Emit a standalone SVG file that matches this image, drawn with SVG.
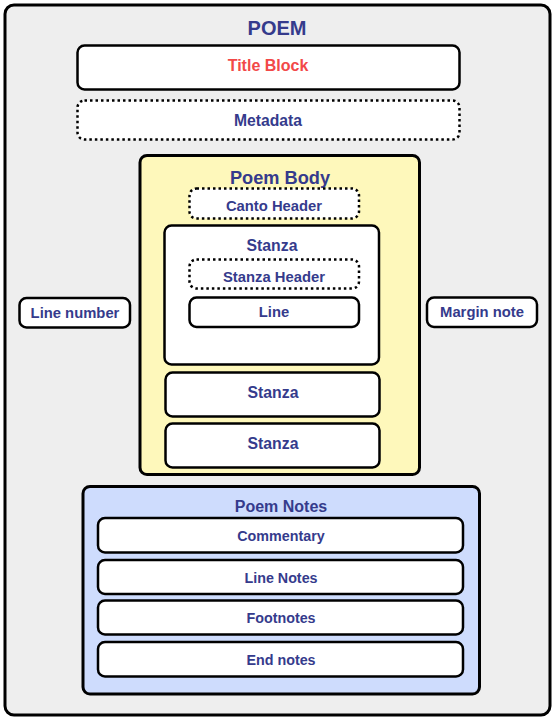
<svg xmlns="http://www.w3.org/2000/svg" width="556" height="721" viewBox="0 0 556 721">
<style>
text{font-family:"Liberation Sans",Arial,sans-serif;font-weight:bold;fill:#353b8c;text-anchor:middle}
.box{fill:#fff;stroke:#000;stroke-width:2.5}
.dot{fill:#fff;stroke:#000;stroke-width:2.5;stroke-dasharray:2.5 3}
.s{font-size:14.8px}
.n{font-size:14.3px}
</style>
<g id="poem">
<rect x="5" y="5" width="545" height="710" rx="9" fill="#eeeeee" stroke="#000" stroke-width="3"/>
<text x="277" y="35" font-size="20">POEM</text>
</g>
<g id="title-block">
<rect class="box" x="77.5" y="45.5" width="382" height="44" rx="7" stroke-width="3"/>
<text x="268" y="71" font-size="16" style="fill:#f24848">Title Block</text>
</g>
<g id="metadata">
<rect class="dot" x="77.5" y="100.5" width="382" height="39" rx="7"/>
<text x="268" y="126" font-size="15.7">Metadata</text>
</g>
<g id="poem-body">
<rect x="140" y="155.5" width="279.5" height="319" rx="7" fill="#fef8bb" stroke="#000" stroke-width="3"/>
<text x="280" y="183.5" font-size="18.2">Poem Body</text>
</g>
<g id="canto-header">
<rect class="dot" x="189.5" y="188.5" width="169.5" height="30" rx="7"/>
<text class="s" x="274" y="211">Canto Header</text>
</g>
<g id="stanza-1">
<rect class="box" x="164.5" y="225.5" width="214.5" height="139" rx="7" stroke-width="3"/>
<text x="272" y="250.5" font-size="15.8">Stanza</text>
</g>
<g id="stanza-header">
<rect class="dot" x="189.5" y="259.5" width="169.5" height="29" rx="7"/>
<text class="s" x="274" y="282">Stanza Header</text>
</g>
<g id="line">
<rect class="box" x="189.5" y="297.5" width="169.5" height="29.5" rx="7"/>
<text class="s" x="274" y="317">Line</text>
</g>
<g id="stanza-2">
<rect class="box" x="165.5" y="372.5" width="214" height="44" rx="7" stroke-width="3"/>
<text x="273" y="397.5" font-size="15.8">Stanza</text>
</g>
<g id="stanza-3">
<rect class="box" x="165.5" y="423.5" width="214" height="44" rx="7" stroke-width="3"/>
<text x="273" y="448.5" font-size="15.8">Stanza</text>
</g>
<g id="line-number">
<rect class="box" x="19.5" y="298" width="110.5" height="29.5" rx="7"/>
<text class="s" x="75" y="318">Line number</text>
</g>
<g id="margin-note">
<rect class="box" x="427" y="297.5" width="110" height="29.5" rx="7"/>
<text class="s" x="482" y="317">Margin note</text>
</g>
<g id="poem-notes">
<rect x="83" y="486.5" width="396.5" height="207.5" rx="7" fill="#cedcfd" stroke="#000" stroke-width="3"/>
<text x="281" y="511.5" font-size="16">Poem Notes</text>
</g>
<g id="commentary">
<rect class="box" x="98" y="518" width="365" height="34.5" rx="7" stroke-width="3"/>
<text class="n" x="281" y="541">Commentary</text>
</g>
<g id="line-notes">
<rect class="box" x="98" y="560" width="365" height="34" rx="7" stroke-width="3"/>
<text class="n" x="281" y="583.3">Line Notes</text>
</g>
<g id="footnotes">
<rect class="box" x="98" y="600.5" width="365" height="34" rx="7" stroke-width="3"/>
<text class="n" x="281" y="623.3">Footnotes</text>
</g>
<g id="end-notes">
<rect class="box" x="98" y="642" width="365" height="34.5" rx="7" stroke-width="3"/>
<text class="n" x="281" y="665.3">End notes</text>
</g>
<g id="connectors"></g>
</svg>
